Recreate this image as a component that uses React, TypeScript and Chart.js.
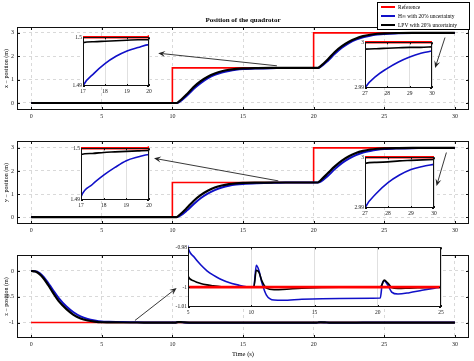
import React, { useEffect, useRef } from 'react';
import { Chart, registerables } from 'chart.js';
Chart.register(...registerables);

const FONT = '"Liberation Serif", "DejaVu Serif", serif';
const RED = '#ff0000';
const BLUE = '#1010c8';
const BLACK = '#000000';

// ---------- data ----------
const refTime = [0, 10, 10, 20, 20, 30];
const xyRef = [0, 0, 1.5, 1.5, 3, 3];
const zRefTime = [0, 30];
const zRef = [-1, -1];

const xyTime = [0, 10, 10.3, 10.5, 11, 11.5, 12, 12.5, 13, 13.5, 14, 14.5, 15, 16, 17, 17.5, 18, 18.5, 19, 19.5, 20, 20.3, 20.5, 21, 21.5, 22, 22.5, 23, 23.5, 24, 24.5, 25, 26, 27, 27.5, 28, 28.5, 29, 29.5, 30];
const xLpv = [0, 0, 0, 0.08, 0.36, 0.68, 0.93, 1.12, 1.26, 1.36, 1.42, 1.46, 1.48, 1.494, 1.4989, 1.4991, 1.4992, 1.4993, 1.4994, 1.4995, 1.4995, 1.4997, 1.58, 1.86, 2.18, 2.43, 2.62, 2.76, 2.86, 2.92, 2.96, 2.98, 2.994, 2.9985, 2.9986, 2.9987, 2.9988, 2.9989, 2.9989, 2.999];
const xHinf = [0, 0, 0, 0.05, 0.3, 0.6, 0.85, 1.05, 1.2, 1.3, 1.37, 1.42, 1.45, 1.476, 1.49, 1.4926, 1.4946, 1.4961, 1.4972, 1.4979, 1.4985, 1.4988, 1.55, 1.8, 2.1, 2.36, 2.56, 2.71, 2.81, 2.88, 2.925, 2.955, 2.978, 2.99, 2.9926, 2.9943, 2.9957, 2.9968, 2.9976, 2.9981];
const yLpv = [0, 0, 0, 0.09, 0.38, 0.7, 0.95, 1.14, 1.28, 1.37, 1.43, 1.465, 1.482, 1.494, 1.4988, 1.499, 1.4992, 1.4993, 1.4994, 1.4995, 1.4996, 1.4997, 1.6, 1.9, 2.2, 2.45, 2.64, 2.78, 2.87, 2.93, 2.965, 2.982, 2.994, 2.9988, 2.999, 2.9991, 2.9993, 2.9994, 2.9995, 2.9996];
const yHinf = [0, 0, 0, 0.04, 0.27, 0.56, 0.82, 1.02, 1.17, 1.28, 1.36, 1.41, 1.44, 1.472, 1.4906, 1.493, 1.4948, 1.4963, 1.4976, 1.4983, 1.4988, 1.499, 1.54, 1.78, 2.08, 2.34, 2.54, 2.69, 2.8, 2.87, 2.92, 2.95, 2.976, 2.99, 2.9929, 2.995, 2.9965, 2.9976, 2.9982, 2.9986];

const zTime = [0, 0.3, 0.6, 0.9, 1.2, 1.5, 2, 2.5, 3, 3.5, 4, 4.5, 5, 5.5, 6, 6.5, 7, 7.5, 8, 9, 10, 10.2, 10.4, 10.6, 10.85, 11.2, 11.8, 12.5, 14, 17, 20.2, 20.35, 20.5, 20.8, 21.1, 21.6, 22.5, 23.5, 24.5, 25, 30];
const zLpv = [0, -0.01, -0.06, -0.15, -0.27, -0.4, -0.6, -0.74, -0.85, -0.92, -0.96, -0.982, -0.9945, -0.997, -0.9982, -0.9989, -0.9993, -0.9997, -1, -1, -1, -1, -0.9915, -0.9925, -0.997, -1.0005, -1.0013, -1.0012, -1.0005, -1, -1, -0.9985, -0.9965, -0.998, -1.0002, -1.0007, -1.0005, -1.0003, -1.0001, -1, -1];
const zHinf = [0, -0.005, -0.04, -0.12, -0.23, -0.35, -0.54, -0.69, -0.8, -0.88, -0.93, -0.96, -0.98, -0.985, -0.9888, -0.9918, -0.994, -0.9958, -0.9972, -0.999, -1, -1, -0.989, -0.9915, -0.998, -1.004, -1.0065, -1.0066, -1.0061, -1.0057, -1.0055, -0.9985, -0.9968, -0.999, -1.0025, -1.0035, -1.0028, -1.0016, -1.0005, -1, -1];

// ---------- tick labels ----------
const mainXTicks = [0, 5, 10, 15, 20, 25, 30];
const xyTicks = [0, 1, 2, 3];
const zTicks = [-1, -0.5, 0];
const insetAXTicks = [17, 18, 19, 20];
const insetAYTicks = [1.49, 1.5];
const insetBXTicks = [27, 28, 29, 30];
const insetBYTicks = [2.99, 3];
const insetZXTicks = [5, 10, 15, 20, 25];
const insetZYTicks = [-1.01, -1, -0.98];

const legendLabels = ['Reference', 'H\u221E with 20% uncertainty', 'LPV with 20% uncertainty'];
const legendColors = [RED, BLUE, BLACK];

// arrows in data coordinates of each panel
const xArrows = [
  { from: [17.4, 1.59], to: [9.0, 2.13] },
  { from: [29.3, 2.8], to: [28.6, 1.5] },
];
const yArrows = [
  { from: [17.5, 1.57], to: [8.7, 2.55] },
  { from: [29.4, 2.8], to: [28.7, 1.35] },
];
const zArrows = [{ from: [7.35, -0.96], to: [10.3, -0.33] }];

// ---------- helpers ----------
const pts = (t: number[], v: number[]) => t.map((x, i) => ({ x, y: v[i] }));

function line(t: number[], v: number[], color: string, width: number, order: number, smooth: boolean, clipTop = 0) {
  return {
    data: pts(t, v),
    borderColor: color,
    backgroundColor: color,
    borderWidth: width,
    pointRadius: 0,
    fill: false,
    order,
    tension: smooth ? 0.4 : 0,
    cubicInterpolationMode: smooth ? 'monotone' : 'default',
    clip: { left: 0, right: 0, bottom: 0, top: clipTop },
  } as any;
}

function drawArrow(ctx: CanvasRenderingContext2D, x1: number, y1: number, x2: number, y2: number) {
  const ang = Math.atan2(y2 - y1, x2 - x1);
  const len = 7;
  const wid = 3;
  ctx.save();
  ctx.strokeStyle = '#222';
  ctx.fillStyle = '#222';
  ctx.lineWidth = 0.9;
  ctx.beginPath();
  ctx.moveTo(x1, y1);
  ctx.lineTo(x2 - Math.cos(ang) * len * 0.6, y2 - Math.sin(ang) * len * 0.6);
  ctx.stroke();
  ctx.beginPath();
  ctx.moveTo(x2, y2);
  ctx.lineTo(x2 - Math.cos(ang) * len - Math.sin(ang) * wid, y2 - Math.sin(ang) * len + Math.cos(ang) * wid);
  ctx.lineTo(x2 - Math.cos(ang) * len * 0.6, y2 - Math.sin(ang) * len * 0.6);
  ctx.lineTo(x2 - Math.cos(ang) * len + Math.sin(ang) * wid, y2 - Math.sin(ang) * len - Math.cos(ang) * wid);
  ctx.closePath();
  ctx.fill();
  ctx.restore();
}

function framePlugin(opts: { fillWhite: boolean; tickLen: number; arrows?: { from: number[]; to: number[] }[]; extra?: (chart: any) => void }) {
  return {
    id: 'frameDeco',
    beforeDraw(chart: any) {
      if (!opts.fillWhite) return;
      const { ctx, chartArea: a } = chart;
      ctx.save();
      ctx.fillStyle = '#ffffff';
      ctx.fillRect(a.left, a.top, a.right - a.left, a.bottom - a.top);
      ctx.restore();
    },
    afterDatasetsDraw(chart: any) {
      const { ctx, chartArea: a, scales } = chart;
      ctx.save();
      ctx.setLineDash([]);
      ctx.strokeStyle = '#111';
      ctx.lineWidth = 1;
      ctx.strokeRect(Math.round(a.left) + 0.5, Math.round(a.top) + 0.5, Math.round(a.right - a.left) - 1, Math.round(a.bottom - a.top) - 1);
      const tl = opts.tickLen;
      if (tl > 0) {
        ctx.beginPath();
        scales.x.ticks.forEach((t: any) => {
          const px = Math.round(scales.x.getPixelForValue(t.value)) + 0.5;
          ctx.moveTo(px, a.bottom);
          ctx.lineTo(px, a.bottom - tl);
          ctx.moveTo(px, a.top);
          ctx.lineTo(px, a.top + tl);
        });
        scales.y.ticks.forEach((t: any) => {
          const py = Math.round(scales.y.getPixelForValue(t.value)) + 0.5;
          ctx.moveTo(a.left, py);
          ctx.lineTo(a.left + tl, py);
          ctx.moveTo(a.right, py);
          ctx.lineTo(a.right - tl, py);
        });
        ctx.stroke();
      }
      ctx.restore();
      (opts.arrows || []).forEach((ar) => {
        drawArrow(
          ctx,
          scales.x.getPixelForValue(ar.from[0]),
          scales.y.getPixelForValue(ar.from[1]),
          scales.x.getPixelForValue(ar.to[0]),
          scales.y.getPixelForValue(ar.to[1])
        );
      });
      if (opts.extra) opts.extra(chart);
    },
  };
}

function drawTitleAndLegend(chart: any) {
  const { ctx, chartArea: a } = chart;
  ctx.save();
  ctx.fillStyle = '#000';
  ctx.font = `bold 7px ${FONT}`;
  ctx.textAlign = 'center';
  ctx.textBaseline = 'middle';
  ctx.fillText('Position of the quadrotor', (a.left + a.right) / 2, 20);
  // legend box
  const bx = 377, by = 2, bw = 93, bh = 28;
  ctx.fillStyle = '#fff';
  ctx.fillRect(bx, by, bw, bh);
  ctx.strokeStyle = '#000';
  ctx.lineWidth = 1;
  ctx.strokeRect(bx + 0.5, by + 0.5, bw - 1, bh - 1);
  ctx.font = `5.5px ${FONT}`;
  ctx.textAlign = 'left';
  legendLabels.forEach((lab, i) => {
    const ly = by + 5 + i * 9;
    ctx.strokeStyle = legendColors[i];
    ctx.lineWidth = 2;
    ctx.beginPath();
    ctx.moveTo(bx + 4, ly);
    ctx.lineTo(bx + 18, ly);
    ctx.stroke();
    ctx.fillStyle = '#000';
    ctx.fillText(lab, bx + 21, ly + 0.5);
  });
  ctx.restore();
}

const tickFont = { family: FONT, size: 6 };

function mainConfig(p: {
  hT: number[]; hV: number[]; lT: number[]; lV: number[]; rT: number[]; rV: number[];
  yMin: number; yMax: number; yTicks: number[]; yTitle: string; padTop: number; xAxisH: number;
  xTitle?: string; arrows: any[]; extra?: (c: any) => void;
}) {
  return {
    type: 'line',
    data: {
      datasets: [
        line(p.lT, p.lV, BLACK, 2.2, 0, true),
        line(p.hT, p.hV, BLUE, 2, 1, true),
        line(p.rT, p.rV, RED, 1.6, 2, false),
      ],
    },
    options: {
      animation: false,
      responsive: false,
      devicePixelRatio: 1,
      events: [],
      layout: { padding: { left: 0, top: p.padTop, right: 5, bottom: 0 } },
      plugins: { legend: { display: false }, tooltip: { enabled: false }, title: { display: false } },
      scales: {
        x: {
          type: 'linear',
          min: -1,
          max: 31,
          afterBuildTicks: (s: any) => { s.ticks = mainXTicks.map((value) => ({ value })); },
          afterFit: (s: any) => { s.height = p.xAxisH; },
          ticks: { font: tickFont, color: '#222', padding: 3, maxRotation: 0, autoSkip: false, callback: (v: any) => `${v}` },
          grid: { color: '#d0d0d0', lineWidth: 0.8, drawTicks: false },
          border: { display: false, dash: [3, 3] },
          title: p.xTitle
            ? { display: true, text: p.xTitle, font: { family: FONT, size: 6.5 }, color: '#000', padding: { top: 0, bottom: 3 } }
            : { display: false },
        },
        y: {
          type: 'linear',
          min: p.yMin,
          max: p.yMax,
          afterBuildTicks: (s: any) => { s.ticks = p.yTicks.map((value) => ({ value })); },
          afterFit: (s: any) => { s.width = 17; },
          ticks: { font: tickFont, color: '#222', padding: 3, autoSkip: false, callback: (v: any) => `${v}` },
          grid: { color: '#d0d0d0', lineWidth: 0.8, drawTicks: false },
          border: { display: false, dash: [3, 3] },
          title: { display: true, text: p.yTitle, font: { family: FONT, size: 6 }, color: '#000', padding: { top: 3, bottom: 0 } },
        },
      },
    },
    plugins: [framePlugin({ fillWhite: false, tickLen: 3, arrows: p.arrows, extra: p.extra })],
  } as any;
}

function insetConfig(p: {
  hT: number[]; hV: number[]; lT: number[]; lV: number[]; rT: number[]; rV: number[];
  xMin: number; xMax: number; xTicks: number[]; yMin: number; yMax: number; yTicks: number[];
}) {
  return {
    type: 'line',
    data: {
      datasets: [
        line(p.lT, p.lV, BLACK, 1.6, 1, true, 2),
        line(p.hT, p.hV, BLUE, 1.6, 2, true, 2),
        line(p.rT, p.rV, RED, 2.6, 0, false, 2),
      ],
    },
    options: {
      animation: false,
      responsive: false,
      devicePixelRatio: 1,
      events: [],
      layout: { padding: { left: 0, top: 4, right: 5, bottom: 0 } },
      plugins: { legend: { display: false }, tooltip: { enabled: false } },
      scales: {
        x: {
          type: 'linear',
          min: p.xMin,
          max: p.xMax,
          afterBuildTicks: (s: any) => { s.ticks = p.xTicks.map((value) => ({ value })); },
          afterFit: (s: any) => { s.height = 11; },
          ticks: { font: { family: FONT, size: 5.5 }, color: '#222', padding: 2, maxRotation: 0, autoSkip: false, callback: (v: any) => `${v}` },
          grid: { color: '#d8d8d8', lineWidth: 0.8, drawTicks: false },
          border: { display: false },
        },
        y: {
          type: 'linear',
          min: p.yMin,
          max: p.yMax,
          afterBuildTicks: (s: any) => { s.ticks = p.yTicks.map((value) => ({ value })); },
          afterFit: (s: any) => { s.width = 20; },
          ticks: { font: { family: FONT, size: 5.5 }, color: '#222', padding: 1, autoSkip: false, callback: (v: any) => `${v}` },
          grid: { display: false, drawTicks: false },
          border: { display: false },
        },
      },
    },
    plugins: [framePlugin({ fillWhite: true, tickLen: 2 })],
  } as any;
}

type Spec = { box: { left: number; top: number; width: number; height: number }; config: () => any };

function insetBox(l: number, t: number, r: number, b: number) {
  return { left: l - 20, top: t - 4, width: r - l + 20 + 5, height: b - t + 4 + 11 };
}

const specs: Spec[] = [
  {
    box: { left: 0, top: 0, width: 474, height: 122 },
    config: () => mainConfig({ hT: xyTime, hV: xHinf, lT: xyTime, lV: xLpv, rT: refTime, rV: xyRef, yMin: -0.3, yMax: 3.25, yTicks: xyTicks, yTitle: 'x \u2212 position (m)', padTop: 27, xAxisH: 12, arrows: xArrows, extra: drawTitleAndLegend }),
  },
  {
    box: { left: 0, top: 121, width: 474, height: 118 },
    config: () => mainConfig({ hT: xyTime, hV: yHinf, lT: xyTime, lV: yLpv, rT: refTime, rV: xyRef, yMin: -0.3, yMax: 3.3, yTicks: xyTicks, yTitle: 'y \u2212 position (m)', padTop: 20, xAxisH: 15, arrows: yArrows }),
  },
  {
    box: { left: 0, top: 240, width: 474, height: 121 },
    config: () => mainConfig({ hT: zTime, hV: zHinf, lT: zTime, lV: zLpv, rT: zRefTime, rV: zRef, yMin: -1.3, yMax: 0.31, yTicks: zTicks, yTitle: 'z \u2212 position (m)', padTop: 15, xAxisH: 23, xTitle: 'Time (s)', arrows: zArrows }),
  },
  {
    box: insetBox(83, 37, 149, 86),
    config: () => insetConfig({ hT: xyTime, hV: xHinf, lT: xyTime, lV: xLpv, rT: refTime, rV: xyRef, xMin: 17, xMax: 20, xTicks: insetAXTicks, yMin: 1.49, yMax: 1.5, yTicks: insetAYTicks }),
  },
  {
    box: insetBox(365, 42, 432, 88),
    config: () => insetConfig({ hT: xyTime, hV: xHinf, lT: xyTime, lV: xLpv, rT: refTime, rV: xyRef, xMin: 27, xMax: 30, xTicks: insetBXTicks, yMin: 2.99, yMax: 3, yTicks: insetBYTicks }),
  },
  {
    box: insetBox(81, 148, 149, 200),
    config: () => insetConfig({ hT: xyTime, hV: yHinf, lT: xyTime, lV: yLpv, rT: refTime, rV: xyRef, xMin: 17, xMax: 20, xTicks: insetAXTicks, yMin: 1.49, yMax: 1.5, yTicks: insetAYTicks }),
  },
  {
    box: insetBox(365, 157, 434, 208),
    config: () => insetConfig({ hT: xyTime, hV: yHinf, lT: xyTime, lV: yLpv, rT: refTime, rV: xyRef, xMin: 27, xMax: 30, xTicks: insetBXTicks, yMin: 2.99, yMax: 3, yTicks: insetBYTicks }),
  },
  {
    box: insetBox(188, 247, 441, 307),
    config: () => insetConfig({ hT: zTime, hV: zHinf, lT: zTime, lV: zLpv, rT: zRefTime, rV: zRef, xMin: 5, xMax: 25, xTicks: insetZXTicks, yMin: -1.01, yMax: -0.98, yTicks: insetZYTicks }),
  },
];

export default function App() {
  const refs = useRef<(HTMLCanvasElement | null)[]>([]);
  useEffect(() => {
    const charts = specs.map((s, i) => new Chart(refs.current[i] as HTMLCanvasElement, s.config()));
    return () => charts.forEach((c) => c.destroy());
  }, []);
  return (
    <div style={{ position: 'fixed', left: 0, top: 0, width: 474, height: 361, background: '#fff', overflow: 'hidden' }}>
      {specs.map((s, i) => (
        <canvas
          key={i}
          ref={(el) => { refs.current[i] = el; }}
          width={s.box.width}
          height={s.box.height}
          style={{ position: 'absolute', left: s.box.left, top: s.box.top, width: s.box.width, height: s.box.height }}
        />
      ))}
    </div>
  );
}
